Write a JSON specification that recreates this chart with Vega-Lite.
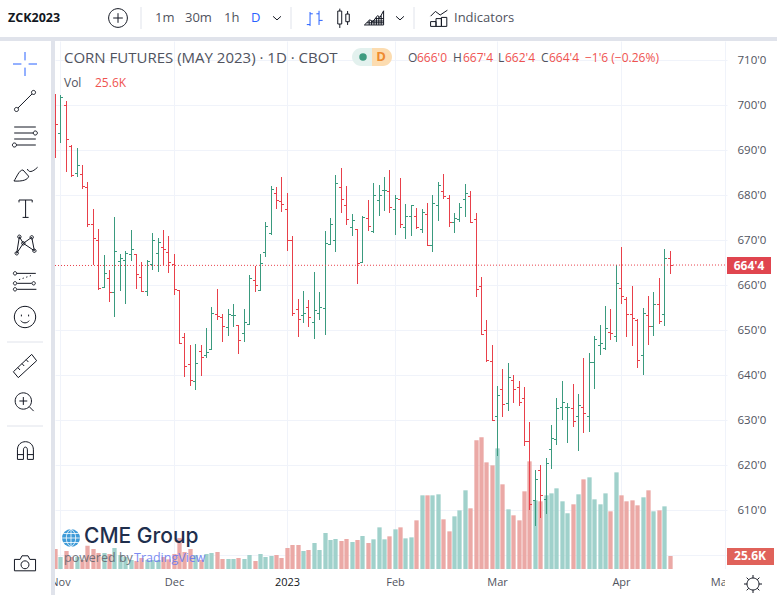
{
  "$schema": "https://vega.github.io/schema/vega-lite/v6.json",
  "description": "Corn futures May 2023 daily OHLC bars with volume, in a trading terminal frame.",
  "width": 670,
  "height": 528,
  "autosize": "none",
  "padding": {"left": 55, "top": 41, "right": 52, "bottom": 26},
  "background": "white",
  "config": {"view": {"stroke": null}, "font": "Open Sans"},
  "datasets": {
    "bars": [
      {"i":-1,"open":699,"high":702.4,"low":688.3,"close":695.7,"vol":39.4},
      {"i":0,"open":693.7,"high":702.2,"low":691.6,"close":701.8,"vol":23.7},
      {"i":1,"open":700.1,"high":700.9,"low":685.2,"close":692.4,"vol":35.5},
      {"i":2,"open":690.8,"high":691.1,"low":684.1,"close":684.5,"vol":23.7},
      {"i":3,"open":684.8,"high":690.4,"low":684.1,"close":686.6,"vol":23.7},
      {"i":4,"open":684.6,"high":686.7,"low":681.4,"close":681.9,"vol":17.7},
      {"i":5,"open":681.7,"high":682.9,"low":672.8,"close":673.5,"vol":46},
      {"i":6,"open":673.5,"high":676.9,"low":664.4,"close":670.4,"vol":39.4},
      {"i":7,"open":670.1,"high":672.4,"low":658.8,"close":659.3,"vol":31.5},
      {"i":8,"open":659.5,"high":666.7,"low":659.5,"close":662.6,"vol":31.5},
      {"i":9,"open":661.5,"high":663.3,"low":656.2,"close":658.4,"vol":29.6},
      {"i":10,"open":658.4,"high":675.1,"low":652.9,"close":667.5,"vol":41.4},
      {"i":11,"open":665.3,"high":666.9,"low":658.7,"close":666.1,"vol":27.6},
      {"i":12,"open":665.5,"high":667.6,"low":655.8,"close":667,"vol":23.7},
      {"i":13,"open":666.8,"high":672.2,"low":665.3,"close":667.9,"vol":17.7},
      {"i":14,"open":666.9,"high":666.9,"low":659.1,"close":662.4,"vol":15.8},
      {"i":15,"open":661.7,"high":665.1,"low":658.4,"close":658.6,"vol":21.7},
      {"i":16,"open":658.6,"high":665.6,"low":657.6,"close":665.3,"vol":17.7},
      {"i":17,"open":664.6,"high":671.6,"low":663.3,"close":669.9,"vol":17.7},
      {"i":18,"open":667,"high":670.4,"low":662.9,"close":669.5,"vol":17.7},
      {"i":19,"open":668.4,"high":672.2,"low":664.4,"close":667.9,"vol":23.7},
      {"i":20,"open":667.3,"high":670.9,"low":662.7,"close":665,"vol":19},
      {"i":21,"open":664.6,"high":666.9,"low":657.8,"close":659,"vol":29.6},
      {"i":22,"open":658.8,"high":658.9,"low":646.9,"close":647,"vol":61.1},
      {"i":23,"open":648.4,"high":649.3,"low":639.6,"close":641.9,"vol":33.5},
      {"i":24,"open":642.4,"high":646.7,"low":637.6,"close":638.8,"vol":39.4},
      {"i":25,"open":638.6,"high":646.9,"low":636.7,"close":642.6,"vol":27.6},
      {"i":26,"open":645.3,"high":646.7,"low":639.8,"close":643.9,"vol":17.7},
      {"i":27,"open":644.4,"high":650.4,"low":643.8,"close":645,"vol":29.6},
      {"i":28,"open":645.7,"high":655.1,"low":645.7,"close":653.8,"vol":31.5},
      {"i":29,"open":653.6,"high":659.1,"low":652.2,"close":653.2,"vol":33.5},
      {"i":30,"open":652.9,"high":653.6,"low":647.3,"close":650.8,"vol":19.7},
      {"i":31,"open":650.6,"high":654.7,"low":648.7,"close":653.6,"vol":19.7},
      {"i":32,"open":653.3,"high":655.8,"low":650.7,"close":653.3,"vol":19.7},
      {"i":33,"open":651,"high":651.1,"low":644.7,"close":647.7,"vol":21.7},
      {"i":34,"open":649.3,"high":654.7,"low":647.3,"close":651.7,"vol":19.7},
      {"i":35,"open":651.3,"high":662.2,"low":651.1,"close":661.6,"vol":27.6},
      {"i":36,"open":661.1,"high":664.2,"low":658.4,"close":660.1,"vol":15.8},
      {"i":37,"open":658.8,"high":666.9,"low":658.8,"close":664.8,"vol":29.6},
      {"i":38,"open":667.3,"high":674,"low":666.3,"close":673.1,"vol":23.7},
      {"i":39,"open":671.5,"high":682,"low":671.1,"close":681.3,"vol":25.6},
      {"i":40,"open":680.4,"high":681.8,"low":676.9,"close":678.8,"vol":27.6},
      {"i":41,"open":678.6,"high":684,"low":676.2,"close":677.9,"vol":21.7},
      {"i":42,"open":676.8,"high":680.4,"low":667.6,"close":670.1,"vol":41.4},
      {"i":43,"open":669.9,"high":670.9,"low":653.1,"close":653.7,"vol":47.3},
      {"i":44,"open":654.6,"high":656.8,"low":648.4,"close":652.4,"vol":47.3},
      {"i":45,"open":653.3,"high":658.7,"low":651.6,"close":653.7,"vol":35.5},
      {"i":46,"open":655,"high":656.7,"low":650.7,"close":652.8,"vol":37.4},
      {"i":47,"open":651.7,"high":662.9,"low":648,"close":654.4,"vol":51.2},
      {"i":48,"open":653.7,"high":658.4,"low":652.2,"close":655,"vol":37.4},
      {"i":49,"open":654.8,"high":672,"low":648.9,"close":669.3,"vol":71},
      {"i":50,"open":669,"high":674.9,"low":668.9,"close":673.5,"vol":57.2},
      {"i":51,"open":670.1,"high":684.4,"low":667.3,"close":682.6,"vol":59.1},
      {"i":52,"open":681.7,"high":686,"low":676,"close":679,"vol":55.2},
      {"i":53,"open":677.7,"high":682,"low":673.3,"close":674.6,"vol":59.1},
      {"i":54,"open":672.8,"high":675.8,"low":670.9,"close":674.4,"vol":53.2},
      {"i":55,"open":672.4,"high":672.4,"low":660.2,"close":664.8,"vol":57.2},
      {"i":56,"open":665,"high":675.3,"low":664.8,"close":675,"vol":65},
      {"i":57,"open":674.8,"high":678.9,"low":672.1,"close":673,"vol":51.2},
      {"i":58,"open":671.9,"high":682.7,"low":671.5,"close":679.9,"vol":58.5},
      {"i":59,"open":678.8,"high":682.2,"low":675.3,"close":679.9,"vol":82.1},
      {"i":60,"open":681,"high":684,"low":676.4,"close":681,"vol":58.5},
      {"i":61,"open":680.8,"high":685.6,"low":676,"close":677.3,"vol":64.4},
      {"i":62,"open":676.8,"high":680,"low":671.1,"close":679.3,"vol":78.2},
      {"i":63,"open":679,"high":683.8,"low":672.7,"close":673.5,"vol":82.1},
      {"i":64,"open":672.8,"high":678,"low":670.2,"close":675.3,"vol":60.4},
      {"i":65,"open":675.3,"high":677.8,"low":670.9,"close":677.7,"vol":62.4},
      {"i":66,"open":675.3,"high":677,"low":672.4,"close":672.8,"vol":95.9},
      {"i":67,"open":672.4,"high":676.9,"low":671.5,"close":676.2,"vol":145.2},
      {"i":68,"open":675.8,"high":678.3,"low":668.7,"close":668.8,"vol":145.2},
      {"i":69,"open":668.8,"high":680,"low":667.3,"close":678.2,"vol":145.2},
      {"i":70,"open":677.7,"high":682.9,"low":674.2,"close":682.2,"vol":147.2},
      {"i":71,"open":680.8,"high":684.7,"low":679.1,"close":679.7,"vol":97.9},
      {"i":72,"open":679.3,"high":680,"low":672.9,"close":673.9,"vol":74.2},
      {"i":73,"open":674.1,"high":676.1,"low":671.6,"close":674.8,"vol":103.8},
      {"i":74,"open":674.7,"high":678.2,"low":674.1,"close":677.3,"vol":115.6},
      {"i":75,"open":679,"high":682.4,"low":675.1,"close":680.4,"vol":155.1},
      {"i":76,"open":679.7,"high":680.9,"low":674,"close":674.1,"vol":119.6},
      {"i":77,"open":674.6,"high":676,"low":657.3,"close":659,"vol":253.6},
      {"i":78,"open":659.7,"high":661.8,"low":648.9,"close":649,"vol":259.5},
      {"i":79,"open":649.9,"high":652.2,"low":642.9,"close":643.3,"vol":210.2},
      {"i":80,"open":643,"high":646.7,"low":629.9,"close":629.9,"vol":204.3},
      {"i":81,"open":630.8,"high":637.6,"low":622,"close":635.5,"vol":237.8},
      {"i":82,"open":636.8,"high":641.3,"low":630.7,"close":633.5,"vol":166.9},
      {"i":83,"open":633.7,"high":642.7,"low":632,"close":639.5,"vol":117.6},
      {"i":84,"open":638.8,"high":640,"low":633.8,"close":636.8,"vol":105.8},
      {"i":85,"open":637.3,"high":638.7,"low":633.1,"close":633.9,"vol":95.9},
      {"i":86,"open":634.8,"high":637.3,"low":624.2,"close":625.3,"vol":153.1},
      {"i":87,"open":625.3,"high":629.6,"low":610,"close":611.3,"vol":212.2},
      {"i":88,"open":612.2,"high":618.9,"low":606.4,"close":617,"vol":135.3},
      {"i":89,"open":618.8,"high":620,"low":608.2,"close":613.3,"vol":133.4},
      {"i":90,"open":612.4,"high":621.6,"low":609.1,"close":620.4,"vol":145.2},
      {"i":91,"open":623.5,"high":628.9,"low":619.1,"close":626.1,"vol":149.1},
      {"i":92,"open":625.7,"high":634.9,"low":624.4,"close":632.6,"vol":159},
      {"i":93,"open":633,"high":638.7,"low":630,"close":633.9,"vol":133.4},
      {"i":94,"open":632.8,"high":633.7,"low":624.9,"close":632.8,"vol":109.7},
      {"i":95,"open":632.6,"high":638,"low":628.4,"close":629.7,"vol":127.5},
      {"i":96,"open":631,"high":635.8,"low":623.1,"close":633.3,"vol":147.2},
      {"i":97,"open":632.8,"high":643.8,"low":627.1,"close":631.5,"vol":176.7},
      {"i":98,"open":630.8,"high":644.9,"low":627.3,"close":642.8,"vol":180.7},
      {"i":99,"open":642.8,"high":648.7,"low":636.9,"close":647.9,"vol":137.3},
      {"i":100,"open":646.6,"high":651.1,"low":644.4,"close":647,"vol":127.5},
      {"i":101,"open":645.9,"high":655.3,"low":645.6,"close":650.4,"vol":149.1},
      {"i":102,"open":649.5,"high":654.7,"low":647.8,"close":649.3,"vol":113.7},
      {"i":103,"open":648.6,"high":664.4,"low":647.3,"close":660.4,"vol":190.5},
      {"i":104,"open":659.3,"high":668.4,"low":655.8,"close":657.5,"vol":145.2},
      {"i":105,"open":656.8,"high":657.3,"low":648.4,"close":653.5,"vol":133.4},
      {"i":106,"open":653.5,"high":659.8,"low":646.4,"close":652.6,"vol":135.3},
      {"i":107,"open":652.3,"high":652.4,"low":641.6,"close":643.3,"vol":125.5},
      {"i":108,"open":644.4,"high":654.9,"low":640,"close":653.7,"vol":141.3},
      {"i":109,"open":653.3,"high":657.6,"low":646.7,"close":650.8,"vol":155.1},
      {"i":110,"open":650.8,"high":658.4,"low":648.7,"close":655.7,"vol":113.7},
      {"i":111,"open":655.7,"high":661.6,"low":651.3,"close":652.1,"vol":115.6},
      {"i":112,"open":653.5,"high":668,"low":650.9,"close":666.1,"vol":123.5},
      {"i":113,"open":666,"high":667.5,"low":662.5,"close":664.5,"vol":25.6}
    ],
    "chrome": [
      {"part":"panel","i":-11.22,"i2":-1.76,"p":591.11,"p2":723.33},
      {"part":"panel","i":123.28,"i2":132.93,"p":591.11,"p2":596.89},
      {"part":"band","i":-1.76,"i2":-1.02,"p":591.11,"p2":715.11},
      {"part":"band","i":-11.22,"i2":132.93,"p":714.22,"p2":715.11},
      {"part":"priceTag","i":123.65,"i2":131.81,"p":662.44,"p2":666.22},
      {"part":"volTag","i":123.65,"i2":132.36,"p":597.78,"p2":601.56}
    ],
    "separators": [
      {"i":14.94,"i2":14.94,"p":716.89,"p2":721.78},
      {"i":42.76,"i2":42.76,"p":716.89,"p2":721.78},
      {"i":65.58,"i2":65.58,"p":716.89,"p2":721.78},
      {"i":-9.93,"i2":-3.25,"p":647.4,"p2":647.4},
      {"i":-9.93,"i2":-3.25,"p":628.67,"p2":628.67}
    ],
    "icons": [
      {"icon":"crosshair","i":-6.59,"p":709},
      {"icon":"line","i":-6.59,"p":701.11},
      {"icon":"fib","i":-6.59,"p":693.11},
      {"icon":"brush","i":-6.59,"p":684.44},
      {"icon":"text","i":-6.59,"p":676.89},
      {"icon":"pattern","i":-6.59,"p":668.89},
      {"icon":"forecast","i":-6.59,"p":660.67},
      {"icon":"smile","i":-6.59,"p":652.89},
      {"icon":"ruler","i":-6.59,"p":642},
      {"icon":"zoom","i":-6.59,"p":634.22},
      {"icon":"magnet","i":-6.59,"p":623.11},
      {"icon":"camera","i":-6.59,"p":598.33},
      {"icon":"plus","i":10.58,"p":719.33},
      {"icon":"chevron","i":40.11,"p":719.33},
      {"icon":"ohlc","i":47.03,"p":719.33},
      {"icon":"candle","i":52.6,"p":719.33},
      {"icon":"area","i":58.07,"p":719.33},
      {"icon":"chevron","i":62.99,"p":719.33},
      {"icon":"indicators","i":70.17,"p":719.33},
      {"icon":"gear","i":128.53,"p":593.56}
    ]
  },
  "encoding": {
    "x": {
      "field": "i",
      "type": "quantitative",
      "scale": {"domain": [-1.02, 123.28], "nice": false, "zero": false, "round": true, "padding": 0},
      "axis": {
        "title": null,
        "values": [0, 21, 42, 62, 81, 104, 122.5],
        "labelExpr": "datum.value==0?'Nov':datum.value==21?'Dec':datum.value==42?'2023':datum.value==62?'Feb':datum.value==81?'Mar':datum.value==104?'Apr':'May'",
        "grid": true,
        "gridColor": "#f0f3fa",
        "gridOpacity": {"condition": {"test": "datum.value > 120", "value": 0}, "value": 1},
        "domain": false,
        "ticks": false,
        "labelPadding": 7,
        "labelFont": "Open Sans",
        "labelFontSize": 11,
        "labelColor": {"condition": {"test": "datum.value==42", "value": "#131722"}, "value": "#50535e"},
        "labelFlush": false,
        "labelOverlap": false,
        "labelBound": false
      }
    },
    "y": {
      "field": "p",
      "type": "quantitative",
      "scale": {"domain": [596.89, 714.22], "nice": false, "zero": false, "round": true},
      "axis": null
    }
  },
  "layer": [
    {
      "data": {"name": "bars"},
      "mark": {"type": "bar", "orient": "vertical", "width": 4.3, "xOffset": 0.5},
      "encoding": {
        "y": {
          "field": "vol",
          "type": "quantitative",
          "scale": {"domain": [0, 1040.7], "nice": false},
          "axis": null
        },
        "color": {"condition": {"test": "datum.close < datum.open", "value": "#eba9a6"}, "value": "#a0d1cb"}
      }
    },
    {
      "data": {"name": "bars"},
      "mark": {"type": "rule", "strokeWidth": 1, "xOffset": 0.5},
      "encoding": {
        "y": {
          "field": "high",
          "type": "quantitative",
          "scale": {"domain": [596.89, 714.22], "nice": false, "zero": false, "round": true},
          "axis": {
            "title": null,
            "orient": "right",
            "values": [600, 610, 620, 630, 640, 650, 660, 670, 680, 690, 700, 710],
            "labelExpr": "datum.value == 600 ? '' : datum.value + \"'0\"",
            "grid": true,
            "gridColor": "#f0f3fa",
            "domainColor": "#f0f3fa",
            "tickColor": "#f0f3fa",
            "tickSize": 2,
            "labelPadding": 10,
            "labelFont": "Open Sans",
            "labelFontSize": 11.5,
            "labelColor": "#50535e",
            "labelOverlap": false,
            "labelBound": false,
            "labelFlush": false
          }
        },
        "y2": {"field": "low"},
        "color": {"condition": {"test": "datum.close < datum.open", "value": "#e8404a"}, "value": "#3a9a7e"}
      }
    },
    {
      "data": {"name": "bars"},
      "mark": {"type": "tick", "orient": "horizontal", "size": 3, "thickness": 1, "xOffset": -0.5, "yOffset": 0.5, "opacity": 1},
      "encoding": {
        "y": {"field": "open", "type": "quantitative", "scale": {"domain": [596.89, 714.22], "nice": false, "zero": false, "round": true}, "axis": null},
        "color": {"condition": {"test": "datum.close < datum.open", "value": "#e8404a"}, "value": "#3a9a7e"}
      }
    },
    {
      "data": {"name": "bars"},
      "mark": {"type": "tick", "orient": "horizontal", "size": 3, "thickness": 1, "xOffset": 1.5, "yOffset": 0.5, "opacity": 1},
      "encoding": {
        "y": {"field": "close", "type": "quantitative", "scale": {"domain": [596.89, 714.22], "nice": false, "zero": false, "round": true}, "axis": null},
        "color": {"condition": {"test": "datum.close < datum.open", "value": "#e8404a"}, "value": "#3a9a7e"}
      }
    },
    {
      "data": {"values": [{"i": -1.02, "i2": 123.28, "p": 664.5, "p2": 664.5}]},
      "mark": {"type": "rule", "strokeWidth": 1, "strokeDash": [1, 2], "color": "#e8404a", "yOffset": 0.5},
      "encoding": {"x2": {"field": "i2"}, "y2": {"field": "p2"}}
    },
    {
      "data": {"values": [{"i": 2, "p": 603.84}]},
      "mark": {"type": "point", "shape": "circle", "filled": true, "size": 324, "color": "#3f9bd8", "opacity": 1}
    },
    {
      "data": {"values": [{"i": 2, "p": 603.84}]},
      "mark": {
        "type": "point",
        "filled": false,
        "size": 324,
        "strokeWidth": 0.8,
        "color": "white",
        "opacity": 1,
        "shape": "M-1 0L1 0M-0.85 -0.5L0.85 -0.5M-0.85 0.5L0.85 0.5M0 -1L0 1M0 -1C-0.7 -0.6 -0.7 0.6 0 1M0 -1C0.7 -0.6 0.7 0.6 0 1"
      }
    },
    {
      "data": {"values": [{"t": "CME Group", "i": 4.42, "p": 603.89}]},
      "mark": {"type": "text", "align": "left", "baseline": "middle", "font": "Inter", "fontSize": 21, "fontWeight": 500, "color": "#1f2f4d"},
      "encoding": {"text": {"field": "t"}}
    },
    {
      "data": {"values": [{"t": "powered by", "i": 0.59, "p": 599.33}]},
      "mark": {"type": "text", "align": "left", "baseline": "middle", "fontSize": 12.5, "color": "#5f626c", "opacity": 0.85},
      "encoding": {"text": {"field": "t"}}
    },
    {
      "data": {"values": [{"t": "TradingView", "i": 13.69, "p": 599.33}]},
      "mark": {"type": "text", "align": "left", "baseline": "middle", "fontSize": 12.5, "color": "#6677f0", "opacity": 0.85},
      "encoding": {"text": {"field": "t"}}
    },
    {
      "data": {"name": "chrome"},
      "mark": {"type": "rect"},
      "encoding": {
        "x2": {"field": "i2"},
        "y2": {"field": "p2"},
        "color": {
          "field": "part",
          "type": "nominal",
          "scale": {"domain": ["panel", "band", "priceTag", "volTag"], "range": ["#ffffff", "#e0e3eb", "#e0454f", "#e0625a"]},
          "legend": null
        }
      }
    },
    {
      "data": {"name": "separators"},
      "mark": {"type": "rule", "strokeWidth": 1, "color": "#e0e3eb"},
      "encoding": {"x2": {"field": "i2"}, "y2": {"field": "p2"}}
    },
    {
      "data": {"values": [{"i": 54.14, "i2": 57.79, "p": 708.67, "p2": 712.6}]},
      "mark": {"type": "rect", "color": "#e3f1ee", "cornerRadiusTopLeft": 9, "cornerRadiusBottomLeft": 9},
      "encoding": {"x2": {"field": "i2"}, "y2": {"field": "p2"}}
    },
    {
      "data": {"values": [{"i": 57.79, "i2": 61.45, "p": 708.67, "p2": 712.6}]},
      "mark": {"type": "rect", "color": "#fcdcb0", "cornerRadiusTopRight": 9, "cornerRadiusBottomRight": 9},
      "encoding": {"x2": {"field": "i2"}, "y2": {"field": "p2"}}
    },
    {
      "data": {"values": [{"i": 56.14, "p": 710.6}]},
      "mark": {"type": "point", "shape": "circle", "filled": true, "size": 56, "color": "#3f9b80", "opacity": 1}
    },
    {
      "data": {"name": "icons"},
      "mark": {"type": "point", "filled": false, "size": 576, "strokeWidth": 1, "opacity": 1},
      "encoding": {
        "shape": {
          "field": "icon",
          "type": "nominal",
          "legend": null,
          "scale": {
            "domain": ["crosshair", "line", "fib", "brush", "text", "pattern", "forecast", "smile", "ruler", "zoom", "magnet", "camera", "plus", "chevron", "ohlc", "candle", "area", "indicators", "gear"],
            "range": [
              "M-1 0L-0.3 0M0.3 0L1 0M0 -1L0 -0.3M0 0.3L0 1",
              "M-0.59 0.67L0.59 -0.51M-0.88 0.79a0.17 0.17 0 1 0 0.34 0a0.17 0.17 0 1 0 -0.34 0M0.54 -0.63a0.17 0.17 0 1 0 0.34 0a0.17 0.17 0 1 0 -0.34 0",
              "M-0.9 -0.75L0.9 -0.75M-0.9 -0.25L0.7 -0.25M-0.9 0.25L0.9 0.25M-0.72 0.75L0.9 0.75M0.69 -0.25a0.17 0.17 0 1 0 0.34 0a0.17 0.17 0 1 0 -0.34 0M-1.05 0.75a0.17 0.17 0 1 0 0.34 0a0.17 0.17 0 1 0 -0.34 0",
              "M-0.92 0.5C-0.7 0.2 -0.5 -0.42 -0.17 -0.42L0.3 0.1C0.25 0.4 -0.2 0.55 -0.92 0.5ZM0.2 -0.5C0.3 -0.2 0.6 -0.2 1.05 -0.65",
              "M-0.5 -0.55L-0.5 -0.75L0.6 -0.75L0.6 -0.55M0.05 -0.75L0.05 0.7M-0.2 0.7L0.3 0.7",
              "M-0.69 0.69L-0.47 -0.69L-0.14 -0.14L0.56 -0.64L0.78 0.48L-0.14 -0.14L-0.69 0.69M-0.83 0.69a0.14 0.14 0 1 0 0.28 0a0.14 0.14 0 1 0 -0.28 0M-0.61 -0.69a0.14 0.14 0 1 0 0.28 0a0.14 0.14 0 1 0 -0.28 0M-0.28 -0.14a0.14 0.14 0 1 0 0.28 0a0.14 0.14 0 1 0 -0.28 0M0.42 -0.64a0.14 0.14 0 1 0 0.28 0a0.14 0.14 0 1 0 -0.28 0M0.64 0.48a0.14 0.14 0 1 0 0.28 0a0.14 0.14 0 1 0 -0.28 0",
              "M-0.7 -0.72L0.9 -0.72M-0.65 0.11L0.55 0.11M-0.65 0.61L0.95 0.61M-0.5 -0.2L-0.4 -0.23M-0.2 -0.3L-0.1 -0.33M0.1 -0.4L0.2 -0.43M0.4 -0.5L0.5 -0.53M-0.97 -0.72a0.14 0.14 0 1 0 0.28 0a0.14 0.14 0 1 0 -0.28 0M-0.97 0.11a0.14 0.14 0 1 0 0.28 0a0.14 0.14 0 1 0 -0.28 0M0.58 0.11a0.14 0.14 0 1 0 0.28 0a0.14 0.14 0 1 0 -0.28 0M-0.97 0.61a0.14 0.14 0 1 0 0.28 0a0.14 0.14 0 1 0 -0.28 0",
              "M-0.89 0a0.89 0.89 0 1 0 1.78 0a0.89 0.89 0 1 0 -1.78 0M-0.3 -0.2L-0.3 -0.05M0.3 -0.2L0.3 -0.05M-0.35 0.3C-0.2 0.55 0.2 0.55 0.35 0.3",
              "M-0.97 0.48L0.56 -0.97L0.97 -0.44L-0.56 0.97ZM-0.6 0.13L-0.42 0.33M-0.25 -0.2L-0.07 0M0.1 -0.53L0.28 -0.33",
              "M-0.82 0a0.68 0.68 0 1 0 1.36 0a0.68 0.68 0 1 0 -1.36 0M-0.14 -0.33L-0.14 0.33M-0.47 0L0.19 0M0.36 0.48L0.72 0.84",
              "M-0.63 0.7L-0.63 -0.1C-0.63 -1 0.7 -1 0.7 -0.1L0.7 0.7L0.2 0.7L0.2 -0.1C0.2 -0.4 -0.13 -0.4 -0.13 -0.1L-0.13 0.7ZM-0.63 0.3L-0.13 0.3M0.2 0.3L0.7 0.3",
              "M-0.88 -0.3L-0.4 -0.3L-0.25 -0.6L0.25 -0.6L0.4 -0.3L0.88 -0.3L0.88 0.65L-0.88 0.65ZM-0.33 0.15a0.33 0.33 0 1 0 0.66 0a0.33 0.33 0 1 0 -0.66 0",
              "M-0.78 0a0.78 0.78 0 1 0 1.56 0a0.78 0.78 0 1 0 -1.56 0M-0.4 0L0.4 0M0 -0.4L0 0.4",
              "M-0.33 -0.14L0 0.16L0.33 -0.14",
              "M-0.33 -0.5L-0.33 0.67M-0.33 0.55L-0.6 0.55M-0.33 -0.35L-0.1 -0.35M0.42 -0.6L0.42 0.58M0.42 -0.35L0.2 -0.35M0.42 0.2L0.72 0.2",
              "M-0.52 -0.58L-0.19 -0.58L-0.19 0.5L-0.52 0.5ZM-0.35 -0.78L-0.35 -0.58M-0.35 0.5L-0.35 0.83M0.15 -0.33L0.44 -0.33L0.44 0.31L0.15 0.31ZM0.3 -0.58L0.3 -0.33M0.3 0.31L0.3 0.58",
              "M-0.8 0.58L-0.35 0.15L-0.1 0.3L0.3 -0.2L0.5 -0.05L0.8 -0.6L0.8 0.58ZM-0.4 0.2L-0.4 0.58M-0.2 0.25L-0.2 0.58M0 0.2L0 0.58M0.2 -0.05L0.2 0.58M0.4 -0.1L0.4 0.58M0.6 -0.2L0.6 0.58M-0.6 0.4L0.8 0.4M-0.2 0.25L0.8 0.25M0.1 0.05L0.8 0.05",
              "M-0.7 -0.15L-0.3 -0.55L0.1 -0.25L0.7 -0.65M-0.7 0.7L-0.7 0.3L-0.25 0.3L-0.25 0.7ZM-0.25 0.7L-0.25 0.05L0.2 0.05L0.2 0.7ZM0.2 0.7L0.2 -0.05L0.65 -0.05L0.65 0.7Z",
              "M-0.5 0a0.5 0.5 0 1 0 1 0a0.5 0.5 0 1 0 -1 0M0 -0.5L0 -0.75M0 0.5L0 0.75M-0.5 0L-0.75 0M0.5 0L0.75 0M-0.35 -0.35L-0.53 -0.53M0.35 -0.35L0.53 -0.53M-0.35 0.35L-0.53 0.53M0.35 0.35L0.53 0.53"
            ]
          }
        },
        "color": {"condition": {"test": "datum.icon == 'crosshair' || datum.icon == 'ohlc'", "value": "#2962ff"}, "value": "#131722"}
      }
    },
    {
      "data": {"values": [{"t": "ZCK2023", "i": -9.74, "p": 719.33}]},
      "mark": {"type": "text", "align": "left", "baseline": "middle", "fontSize": 12.5, "fontWeight": "bold", "color": "#131722"},
      "encoding": {"text": {"field": "t"}}
    },
    {
      "data": {"values": [
        {"t": "1m", "i": 17.53, "p": 719.33},
        {"t": "30m", "i": 23.1, "p": 719.33},
        {"t": "1h", "i": 30.33, "p": 719.33},
        {"t": "Indicators", "i": 72.99, "p": 719.33}
      ]},
      "mark": {"type": "text", "align": "left", "baseline": "middle", "fontSize": 13, "color": "#50535e"},
      "encoding": {"text": {"field": "t"}}
    },
    {
      "data": {"values": [{"t": "D", "i": 35.34, "p": 719.33}]},
      "mark": {"type": "text", "align": "left", "baseline": "middle", "fontSize": 13, "color": "#2962ff"},
      "encoding": {"text": {"field": "t"}}
    },
    {
      "data": {"values": [{"t": "CORN FUTURES (MAY 2023) · 1D · CBOT", "i": 0.65, "p": 710.44}]},
      "mark": {"type": "text", "align": "left", "baseline": "middle", "fontSize": 15, "color": "#50535e"},
      "encoding": {"text": {"field": "t"}}
    },
    {
      "data": {"values": [
        {"t": "Vol", "i": 0.65, "p": 704.89},
        {"t": "O", "i": 64.42, "p": 710.4},
        {"t": "H", "i": 72.88, "p": 710.4},
        {"t": "L", "i": 81.17, "p": 710.4},
        {"t": "C", "i": 89.09, "p": 710.4}
      ]},
      "mark": {"type": "text", "align": "left", "baseline": "middle", "fontSize": 12, "color": "#50535e"},
      "encoding": {"text": {"field": "t"}}
    },
    {
      "data": {"values": [
        {"t": "25.6K", "i": 6.49, "p": 704.89},
        {"t": "666'0", "i": 66.2, "p": 710.4},
        {"t": "667'4", "i": 74.62, "p": 710.4},
        {"t": "662'4", "i": 82.52, "p": 710.4},
        {"t": "664'4", "i": 90.69, "p": 710.4},
        {"t": "−1'6 (−0.26%)", "i": 97.31, "p": 710.4}
      ]},
      "mark": {"type": "text", "align": "left", "baseline": "middle", "fontSize": 12, "color": "#ef5350"},
      "encoding": {"text": {"field": "t"}}
    },
    {
      "data": {"values": [{"t": "D", "i": 59.45, "p": 710.6}]},
      "mark": {"type": "text", "align": "center", "baseline": "middle", "fontSize": 13, "fontWeight": "bold", "color": "#ee8a2e"},
      "encoding": {"text": {"field": "t"}}
    },
    {
      "data": {"values": [
        {"t": "664'4", "i": 127.74, "p": 664.33},
        {"t": "25.6K", "i": 128, "p": 599.67}
      ]},
      "mark": {"type": "text", "align": "center", "baseline": "middle", "fontSize": 12, "fontWeight": "bold", "color": "white"},
      "encoding": {"text": {"field": "t"}}
    }
  ],
  "resolve": {"scale": {"y": "independent"}}
}
